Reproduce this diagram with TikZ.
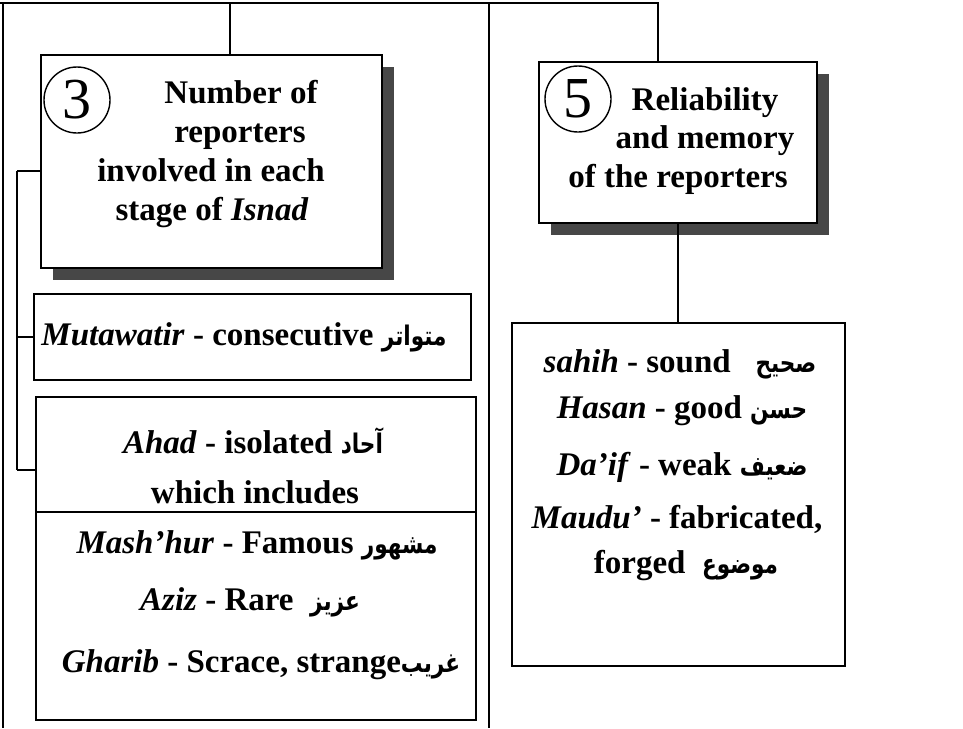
\documentclass[tikz,border=0pt]{standalone}
\usepackage{fontspec}
\setmainfont{Liberation Serif}
\newfontfamily\arabicfont[Script=Arabic, FakeStretch=0.8]{DejaVu Sans}
\TeXXeTstate=1
\usetikzlibrary{shadows}
\newcommand{\AR}[1]{{\arabicfont\bfseries\fontsize{27}{30}\selectfont\beginR #1\endR}}
\begin{document}
\begin{tikzpicture}[x=1pt,y=-1pt,
  conn/.style={line width=1.8pt},
  plainbox/.style={draw, line width=1.8pt, fill=white, inner sep=0pt},
  shadowbox/.style={plainbox, drop shadow={shadow xshift=12pt, shadow yshift=-12pt, fill=black!72, opacity=1}},
  txt/.style={font=\fontsize{33}{38}\selectfont\bfseries, inner sep=0pt, anchor=base},
  numcirc/.style={circle, draw, line width=1.4pt, minimum size=66pt, inner sep=0pt, font=\fontsize{58}{58}\selectfont}
]
\useasboundingbox (0,0) rectangle (963,728);

% boxes
\node[shadowbox, minimum width=341pt, minimum height=213pt] (box3) at (211.5,161.5) {};
\node[shadowbox, minimum width=278pt, minimum height=161pt] (box5) at (678,142.5) {};
\node[plainbox, minimum width=437pt, minimum height=86pt] (mbox) at (252.5,337) {};
\node[plainbox, minimum width=440pt, minimum height=323pt] (abox) at (256,558.5) {};
\node[plainbox, minimum width=333pt, minimum height=343pt] (rbox) at (678.5,494.5) {};

% circled numbers
\node[numcirc] (c3) at (77,100) {3};
\node[numcirc] (c5) at (578,99) {5};

% box 3 text
\node[txt] (t3a) at (241,103) {Number of};
\node[txt] (t3b) at (240,142) {reporters};
\node[txt] (t3c) at (211,181) {involved in each};
\node[txt] (t3d) at (212,220) {stage of \textit{Isnad}};

% box 5 text
\node[txt] (t5a) at (705,110) {Reliability};
\node[txt] (t5b) at (705,148) {and memory};
\node[txt] (t5c) at (678,187) {of the reporters};

% mutawatir
\node[txt] (tm) at (244,345) {\textit{Mutawatir} - consecutive \AR{متواتر}};

% ahad box
\node[txt] (ta1) at (253,453) {\textit{Ahad} - isolated \AR{آحاد}};
\node[txt] (ta2) at (255,503) {which includes};
\node[txt] (ta3) at (257,553) {\textit{Mash’hur} - Famous \AR{مشهور}};
\node[txt] (ta4) at (250,610) {\textit{Aziz} - Rare\ \ \AR{عزيز}};
\node[txt] (ta5) at (261,672) {\textit{Gharib} - Scrace, strange\AR{غريب}};
\coordinate (dl) at (36,512);
\coordinate (dr) at (476,512);
\draw[conn] (dl) -- (dr);

% right box text
\node[txt] (r1) at (680,372) {\textit{sahih} - sound\ \ \ \AR{صحيح}};
\node[txt] (r2) at (682,418) {\textit{Hasan} - good \AR{حسن}};
\node[txt] (r3) at (682,475) {\textit{Da’if} - weak \AR{ضعيف}};
\node[txt] (r4) at (677,528) {\textit{Maudu’} - fabricated,};
\node[txt] (r5) at (686,573) {forged\ \ \AR{موضوع}};

% connectors
\coordinate (tl) at (0,3);
\coordinate (tr) at (658,3);
\coordinate (t230) at (230,3);
\coordinate (l1) at (3,3);
\coordinate (l2) at (3,728);
\coordinate (m1) at (489,3);
\coordinate (m2) at (489,728);
\coordinate (b1) at (17,171);
\coordinate (b2) at (17,337);
\coordinate (b3) at (17,470);

\draw[conn] (tl) -- (tr) -- (tr |- box5.north);
\draw[conn] (t230) -- (t230 |- box3.north);
\draw[conn] (l1) -- (l2);
\draw[conn] (m1) -- (m2);
\draw[conn] (b1) -- (b3);
\draw[conn] (b1) -- (b1 -| box3.west);
\draw[conn] (b2) -- (b2 -| mbox.west);
\draw[conn] (b3) -- (b3 -| abox.west);
\draw[conn] (box5.south) -- (box5.south |- rbox.north);
\end{tikzpicture}
\end{document}
